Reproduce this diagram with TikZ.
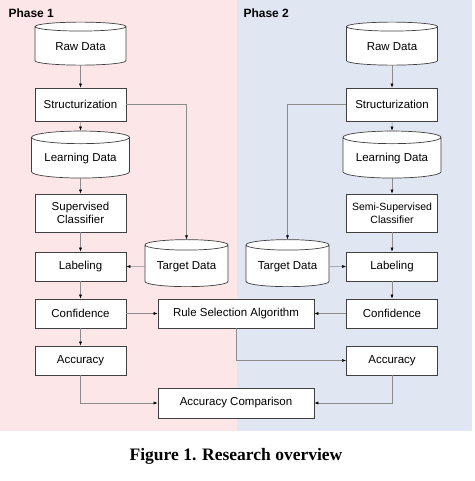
\documentclass[tikz,border=0pt]{standalone}
\usepackage{fontspec}
\setmainfont{Liberation Serif}
\setsansfont{Liberation Sans}
\usetikzlibrary{shapes.geometric,arrows.meta}
\definecolor{phaseonebg}{HTML}{FDE6E8}
\definecolor{phasetwobg}{HTML}{E0E7F3}

\begin{document}
\begin{tikzpicture}[x=1pt,y=-1pt,font=\sffamily\fontsize{11.5}{13}\selectfont]

\tikzstyle{box}=[draw=black!75,fill=white,line width=0.7pt,minimum width=91pt,minimum height=29pt,inner sep=1pt,align=center]
\tikzstyle{db}=[cylinder,shape border rotate=90,aspect=0.17,draw=black!75,fill=white,line width=0.7pt,minimum width=91pt,minimum height=43pt,inner sep=1pt]
\tikzstyle{link}=[draw=black!45,line width=0.5pt,-{Latex[length=4pt,width=3pt,color=black]}]

\useasboundingbox (0,0) rectangle (474,481);
  \fill[phaseonebg] (0,0) rectangle (237,431);
  \fill[phasetwobg] (237,0) rectangle (472,431);

  \node[font=\sffamily\bfseries\fontsize{12}{14}\selectfont,anchor=west] (ph1) at (5,13) {Phase 1};
  \node[font=\sffamily\bfseries\fontsize{12}{14}\selectfont,anchor=west] (ph2) at (240,13) {Phase 2};

  % phase 1
  \node[db] (raw1) at (80.5,46.5) {Raw Data};
  \node[box,minimum height=33pt] (str1) at (80.5,104.5) {Structurization};
  \node[db,minimum width=98pt,minimum height=47pt] (learn1) at (80.5,158.5) {Learning Data};
  \node[box,minimum height=38pt] (cls1) at (80.5,213) {Supervised\\Classifier};
  \node[box] (lab1) at (80.5,266.5) {Labeling};
  \node[box] (conf1) at (80.5,313.5) {Confidence};
  \node[box] (acc1) at (80.5,360.5) {Accuracy};
  \node[db,minimum width=83pt,minimum height=47pt] (tgt1) at (186.5,266.5) {Target Data};

  % phase 2
  \node[db] (raw2) at (392,46.5) {Raw Data};
  \node[box,minimum height=33pt] (str2) at (392,104.5) {Structurization};
  \node[db,minimum width=98pt,minimum height=47pt] (learn2) at (392,158.5) {Learning Data};
  \node[box,minimum height=38pt,font=\sffamily\fontsize{10.5}{12.5}\selectfont] (cls2) at (392,213) {Semi-Supervised\\Classifier};
  \node[box] (lab2) at (392,266.5) {Labeling};
  \node[box] (conf2) at (392,313.5) {Confidence};
  \node[box] (acc2) at (392,360.5) {Accuracy};
  \node[db,minimum width=83pt,minimum height=47pt] (tgt2) at (287.5,266.5) {Target Data};

  % shared
  \node[box,minimum width=156pt] (rule) at (236,313.5) {Rule Selection Algorithm};
  \node[box,minimum width=156pt,minimum height=30pt] (cmp) at (236,403) {Accuracy Comparison};

  \foreach \col in {1,2}
    { \draw[link] (raw\col) -- (str\col);
      \draw[link] (str\col) -- (learn\col);
      \draw[link] (learn\col) -- (cls\col);
      \draw[link] (cls\col) -- (lab\col);
      \draw[link] (lab\col) -- (conf\col);
      \draw[link] (str\col) -| (tgt\col);
      \draw[link] (tgt\col) -- (lab\col);
      \draw[link] (conf\col) -- (rule);
      \draw[link] (acc\col) |- (cmp); }
  \draw[link] (conf1) -- (acc1);
  \draw[link] (rule) |- (acc2);

  \node[font=\rmfamily\bfseries\fontsize{17.5}{20}\selectfont] (caption) at (236,456) {Figure 1. Research overview};

\end{tikzpicture}
\end{document}
